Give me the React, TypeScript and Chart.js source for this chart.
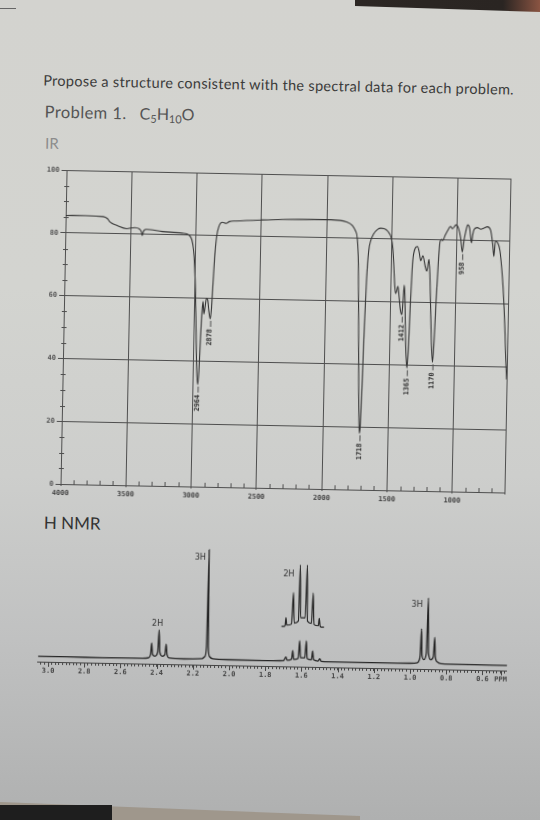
import React, { useEffect, useRef } from "react";
import { Chart, registerables } from "chart.js";

Chart.register(...registerables);

// ---------------- IR spectrum (wavenumber cm-1, %T) ----------------
const irWavenumbers = [
  4000, 3850, 3712, 3680, 3659, 3608, 3532, 3469, 3431, 3418, 3411, 3403, 3395, 3381, 3257, 3106,
  3052, 3030, 3015, 3005, 2995, 2985, 2975, 2964, 2957, 2950, 2942, 2935, 2928, 2920, 2910, 2900,
  2890, 2878, 2870, 2862, 2852, 2840, 2825, 2800, 2770, 2745, 2700, 2500, 2338, 2100, 1968, 1850,
  1802, 1780, 1764, 1752, 1740, 1730, 1722, 1718, 1713, 1706, 1697, 1687, 1675, 1660, 1640, 1610,
  1585, 1560, 1530, 1505, 1490, 1478, 1470, 1462, 1455, 1446, 1436, 1424, 1412, 1405, 1398, 1391,
  1383, 1374, 1365, 1357, 1349, 1340, 1330, 1301, 1288, 1276, 1259, 1240, 1227, 1212, 1203, 1194,
  1181, 1170, 1161, 1152, 1140, 1130, 1117, 1110, 1092, 1066, 1053, 1036, 1010, 990, 972, 958,
  945, 935, 920, 905, 889, 880, 871, 846, 820, 795, 770, 744, 726, 716, 706, 686,
  670, 655, 640, 630, 618, 610, 600,
];
const irTransmittance = [
  85.5, 85.6, 85.4, 84.8, 83.7, 82.7, 81.7, 82.1, 81.6, 80.8, 79.6, 80.8, 81.4, 81.6, 81.0, 80.6,
  80.0, 78.5, 75, 70, 62, 50, 38, 32.5, 37, 47, 56, 59, 55, 57, 60, 59.5,
  56, 53.5, 57, 65, 74, 80, 83, 84.3, 84, 84.6, 84.8, 85.3, 85.6, 85.8, 85.8, 85.2,
  84, 82.5, 80, 72, 50, 30, 19.5, 18, 21, 33, 52, 67, 76, 79.5, 81.5, 83,
  83.4, 83.3, 82.4, 80.5, 77, 70, 65, 62.7, 63.5, 65, 62, 57.5, 56, 60, 65.4, 62,
  52, 43, 39, 45, 58, 70, 75.5, 77.8, 76, 73.3, 74.9, 71.5, 70, 73.8, 69, 60,
  47, 41, 48, 60, 73, 79.5, 80.2, 79.8, 81.5, 83.6, 84.4, 83.7, 84.9, 83.8, 80.6, 76.3,
  80.5, 82.8, 85, 83.9, 79.3, 82, 83.6, 84.2, 83.7, 84.1, 84.5, 83.4, 78.8, 75.1, 80, 79.3,
  77, 71.8, 65, 58.9, 50, 42.8, 36,
];
const irXTicks = [4000, 3500, 3000, 2500, 2000, 1500, 1000];
const irYTicks = [0, 20, 40, 60, 80, 100];
const irPeakLabels = ["2964", "2878", "1718", "1412", "1365", "1170", "958"];
const irPeakWn = [2964, 2878, 1718, 1412, 1365, 1170, 958];
const irPeakT = [32.5, 53.5, 18, 56, 39, 41, 76.3];

// ---------------- 1H NMR spectrum (ppm, intensity) ----------------
const nmrPpm = [
  3.057, 2.9, 2.7, 2.5, 2.46,
  2.445, 2.435, 2.43, 2.424, 2.41, 2.396, 2.39, 2.384, 2.37, 2.356, 2.35, 2.344, 2.33,
  2.25, 2.15, 2.135, 2.127, 2.122, 2.117, 2.109, 2.09, 2.0, 1.8, 1.72,
  1.7, 1.687, 1.68, 1.656, 1.65, 1.644, 1.619, 1.613, 1.606, 1.583, 1.576, 1.57, 1.546, 1.54, 1.534,
  1.51, 1.5, 1.492, 1.4, 1.2, 1.0, 0.96,
  0.952, 0.946, 0.941, 0.936, 0.924, 0.912, 0.906, 0.9, 0.886, 0.873, 0.867, 0.862, 0.85, 0.83,
  0.7, 0.465,
];
const nmrIntensity = [
  0.3, 0.3, 0.2, 0.3, 0.5,
  1, 4, 14.5, 4, 2.5, 6, 26.6, 6, 2.5, 4, 13.5, 4, 1,
  0.5, 1, 3, 12, 100, 12, 3, 1, 0.5, 0.4, 0.5,
  0.6, 4, 1, 2, 10, 2, 3, 19, 3.5, 3.5, 19, 3, 2, 10, 2,
  0.8, 3, 0.6, 0.3, 0.3, 0.5, 1,
  3, 8, 32, 8, 4, 10, 60, 10, 4, 7, 24.5, 7, 2, 0.6,
  0.3, 0.2,
];
// expanded inset of the 1.6 ppm multiplet
const nmrInsetPpm = [
  1.715, 1.7, 1.695, 1.691, 1.686, 1.66, 1.652, 1.645, 1.622, 1.617, 1.61, 1.585, 1.578, 1.572,
  1.55, 1.543, 1.536, 1.512, 1.507, 1.502, 1.497, 1.48,
];
const nmrInsetIntensity = [
  31.7, 31.7, 33, 39.6, 33, 34, 62.6, 35, 37, 87.8, 40, 40, 87.8, 37,
  35, 62.6, 34, 33, 39.6, 33, 31.7, 31.7,
];
const nmrTickValues = [3.0, 2.8, 2.6, 2.4, 2.2, 2.0, 1.8, 1.6, 1.4, 1.2, 1.0, 0.8, 0.6, 0.5];
const nmrTickLabels = ["3.0", "2.8", "2.6", "2.4", "2.2", "2.0", "1.8", "1.6", "1.4", "1.2", "1.0", "0.8", "0.6", "PPM"];
const nmrLabelText = ["3H", "2H", "2H", "3H"];
const nmrLabelPpm = [2.17, 2.4, 1.68, 0.968];
const nmrLabelY = [93, 31.6, 79.4, 53.5];

const GRID = "#4e4e4e";
const TICK_FONT = { family: "DejaVu Sans Mono", size: 7, weight: "bold" as const };

const irDecor = {
  id: "irDecor",
  afterDatasetsDraw(chart: any) {
    const { ctx, chartArea } = chart;
    const x = chart.scales.x;
    const y = chart.scales.y;
    ctx.save();
    ctx.strokeStyle = GRID;
    ctx.lineWidth = 1;
    ctx.beginPath();
    for (let w = 700; w < 4000; w += 100) {
      if (w % 500 === 0) continue;
      const px = Math.round(x.getPixelForValue(w)) + 0.5;
      ctx.moveTo(px, chartArea.bottom);
      ctx.lineTo(px, chartArea.bottom - 4);
    }
    for (let t = 5; t < 100; t += 5) {
      if (t % 20 === 0) continue;
      const py = Math.round(y.getPixelForValue(t)) + 0.5;
      ctx.moveTo(chartArea.left - 2, py);
      ctx.lineTo(chartArea.left + 3, py);
    }
    ctx.stroke();
    ctx.fillStyle = "#333";
    ctx.font = 'bold 7px "DejaVu Sans Mono"';
    irPeakWn.forEach((w, i) => {
      const px = x.getPixelForValue(w);
      const py = y.getPixelForValue(irPeakT[i]);
      ctx.beginPath();
      ctx.moveTo(px + 0.5, py + 2);
      ctx.lineTo(px + 0.5, py + 8);
      ctx.stroke();
      ctx.save();
      ctx.translate(px, py + 10);
      ctx.rotate(-Math.PI / 2);
      ctx.textAlign = "right";
      ctx.textBaseline = "middle";
      ctx.fillText(irPeakLabels[i], 0, 0);
      ctx.restore();
    });
    ctx.restore();
  },
};

const nmrDecor = {
  id: "nmrDecor",
  afterDatasetsDraw(chart: any) {
    const { ctx, chartArea } = chart;
    const x = chart.scales.x;
    const y = chart.scales.y;
    ctx.save();
    ctx.strokeStyle = "#444";
    ctx.lineWidth = 1;
    ctx.beginPath();
    nmrTickValues.forEach((v) => {
      const px = Math.round(x.getPixelForValue(v)) + 0.5;
      ctx.moveTo(px, chartArea.bottom);
      ctx.lineTo(px, chartArea.bottom + 5);
    });
    ctx.stroke();
    ctx.fillStyle = "#333";
    ctx.font = '8px "DejaVu Sans"';
    ctx.textAlign = "center";
    ctx.textBaseline = "middle";
    nmrLabelText.forEach((t, i) => {
      ctx.fillText(t, x.getPixelForValue(nmrLabelPpm[i]), y.getPixelForValue(nmrLabelY[i]));
    });
    ctx.restore();
  },
};

export default function App() {
  const irRef = useRef<HTMLCanvasElement>(null);
  const nmrRef = useRef<HTMLCanvasElement>(null);

  useEffect(() => {
    const ir = new Chart(irRef.current as HTMLCanvasElement, {
      type: "line",
      data: {
        datasets: [
          {
            data: irWavenumbers.map((w, i) => ({ x: w, y: irTransmittance[i] })),
            borderColor: "#353535",
            borderWidth: 1.1,
            pointRadius: 0,
            cubicInterpolationMode: "monotone",
          },
        ],
      },
      options: {
        responsive: false,
        animation: false,
        events: [],
        layout: { padding: { top: 10, right: 12, left: 0, bottom: 0 }, autoPadding: false },
        plugins: { legend: { display: false }, tooltip: { enabled: false } },
        scales: {
          x: {
            type: "linear",
            reverse: true,
            min: 600,
            max: 4000,
            afterFit: (s: any) => {
              s.height = 20;
            },
            afterBuildTicks: (s: any) => {
              s.ticks = [600, ...irXTicks.slice().reverse()].map((v) => ({ value: v }));
            },
            grid: { color: GRID, lineWidth: 1, tickLength: 2 },
            border: { display: true, color: GRID, width: 1 },
            ticks: {
              autoSkip: false,
              maxRotation: 0,
              padding: 3,
              color: "#444",
              font: TICK_FONT,
              callback: (v: any) => (irXTicks.includes(Number(v)) ? String(v) : ""),
            },
          },
          y: {
            type: "linear",
            min: 0,
            max: 100,
            afterFit: (s: any) => {
              s.width = 34;
            },
            afterBuildTicks: (s: any) => {
              s.ticks = irYTicks.map((v) => ({ value: v }));
            },
            grid: { color: GRID, lineWidth: 1, tickLength: 5 },
            border: { display: true, color: GRID, width: 1 },
            ticks: { padding: 2, color: "#555", font: TICK_FONT },
          },
        },
      },
      plugins: [irDecor],
    } as any);

    const nmr = new Chart(nmrRef.current as HTMLCanvasElement, {
      type: "line",
      data: {
        datasets: [
          {
            data: nmrPpm.map((p, i) => ({ x: p, y: nmrIntensity[i] })),
            borderColor: "#262626",
            borderWidth: 1.3,
            pointRadius: 0,
            cubicInterpolationMode: "monotone",
          },
          {
            data: nmrInsetPpm.map((p, i) => ({ x: p, y: nmrInsetIntensity[i] })),
            borderColor: "#262626",
            borderWidth: 1.2,
            pointRadius: 0,
            cubicInterpolationMode: "monotone",
          },
        ],
      },
      options: {
        responsive: false,
        animation: false,
        events: [],
        layout: { padding: { top: 14.4, right: 13.1, left: 22.7, bottom: 0 }, autoPadding: false },
        plugins: { legend: { display: false }, tooltip: { enabled: false } },
        scales: {
          x: {
            type: "linear",
            reverse: true,
            min: 0.465,
            max: 3.057,
            afterFit: (s: any) => {
              s.height = 24;
            },
            afterBuildTicks: (s: any) => {
              const t: any[] = [];
              for (let k = 24; k <= 152; k++) t.push({ value: Math.round(k * 2) / 100 });
              s.ticks = t;
            },
            grid: { drawOnChartArea: false, color: "#444", lineWidth: 1, tickLength: 3 },
            border: { display: true, color: "#444", width: 1 },
            ticks: {
              autoSkip: false,
              maxRotation: 0,
              minRotation: 0,
              padding: 2,
              color: "#444",
              font: TICK_FONT,
              callback: (v: any) => {
                const idx = nmrTickValues.findIndex((tv) => Math.abs(tv - Number(v)) < 1e-6);
                return idx >= 0 ? nmrTickLabels[idx] : "";
              },
            },
          },
          y: { type: "linear", min: -4.5, max: 106, display: false },
        },
      },
      plugins: [nmrDecor],
    } as any);

    return () => {
      ir.destroy();
      nmr.destroy();
    };
  }, []);

  const txt: React.CSSProperties = { position: "absolute", whiteSpace: "nowrap", lineHeight: 1, fontFamily: "Lato, 'Open Sans', sans-serif" };

  return (
    <div
      style={{
        position: "absolute",
        left: 0,
        top: 0,
        width: 540,
        height: 820,
        overflow: "hidden",
        background:
          "linear-gradient(180deg, #d3d3cf 0%, #d3d4d0 35%, #cdcecc 58%, #c0c1c1 78%, #afb0b0 100%)",
      }}
    >
      <div
        style={{
          position: "absolute",
          left: 0,
          top: 0,
          width: 540,
          height: 820,
          transform: "rotate(1.1deg)",
          transformOrigin: "270px 410px",
        }}
      >
        <div style={{ ...txt, left: 37, top: 78, fontSize: 14.5, letterSpacing: 0.3, color: "#3b3b3b" }}>
          Propose a structure consistent with the spectral data for each problem.
        </div>
        <div style={{ ...txt, left: 39, top: 108, fontSize: 16.5, letterSpacing: 0.4, color: "#555" }}>Problem 1.</div>
        <div style={{ ...txt, left: 134, top: 108, fontSize: 16, color: "#555" }}>
          C<sub style={{ fontSize: 11, verticalAlign: -3, lineHeight: 0 }}>5</sub>H
          <sub style={{ fontSize: 11, verticalAlign: -3, lineHeight: 0 }}>10</sub>O
        </div>
        <div style={{ ...txt, left: 40, top: 140, fontSize: 15, color: "#8c8c8c" }}>IR</div>
        <div style={{ ...txt, left: 46, top: 518, fontSize: 17, color: "#333" }}>H NMR</div>
        <canvas
          ref={irRef}
          width={490}
          height={344}
          style={{ position: "absolute", left: 28, top: 164, width: 490, height: 344 }}
        />
        <canvas
          ref={nmrRef}
          width={505}
          height={160}
          style={{ position: "absolute", left: 20, top: 530, width: 505, height: 160 }}
        />
      </div>
      <div
        style={{
          position: "absolute",
          left: 355,
          top: 0,
          width: 185,
          height: 12,
          background: "linear-gradient(90deg, #2c2724 0%, #2a2522 80%, #8a5442 100%)",
          clipPath: "polygon(0 0, 100% 0, 100% 100%, 0 50%)",
        }}
      />
      <div style={{ position: "absolute", left: 0, top: 8, width: 16, height: 1, background: "#666" }} />
      <div
        style={{
          position: "absolute",
          left: 0,
          top: 800,
          width: 360,
          height: 20,
          background: "#9f978c",
          clipPath: "polygon(0 10%, 100% 80%, 100% 100%, 0 100%)",
        }}
      />
      <div
        style={{
          position: "absolute",
          left: 0,
          top: 805,
          width: 112,
          height: 15,
          background: "#1e1e1e",
        }}
      />
    </div>
  );
}
